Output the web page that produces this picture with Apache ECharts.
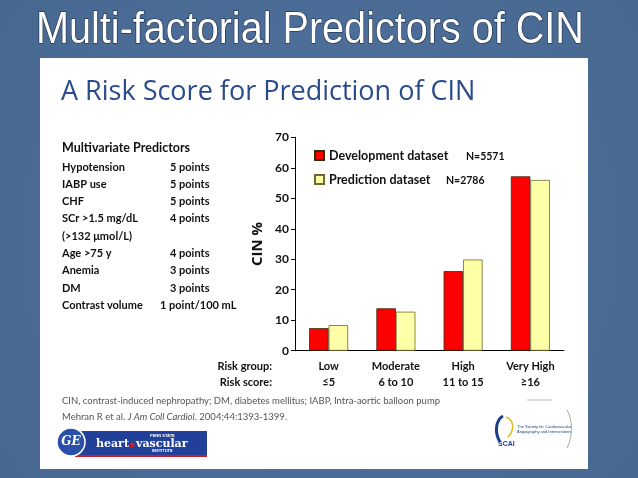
<!DOCTYPE html>
<html>
<head>
<meta charset="utf-8">
<script src="https://cdn.jsdelivr.net/npm/echarts@6/dist/echarts.min.js"></script>
<style>
html, body { margin: 0; padding: 0; }
#chart { width: 638px; height: 478px; }
</style>
</head>
<body>
<div id="chart"></div>
<script>
const risk_groups = ["Low", "Moderate", "High", "Very High"];
const risk_scores = ["≤5", "6 to 10", "11 to 15", "≥16"];
const development_values = [7.4, 13.9, 26.1, 57.2];
const prediction_values = [8.4, 12.8, 29.9, 56.0];

const predictor_names = ["Hypotension", "IABP use", "CHF", "SCr >1.5 mg/dL", "(>132 \u03bcmol/L)", "Age >75 y", "Anemia", "DM", "Contrast volume"];
const predictor_points = ["5 points", "5 points", "5 points", "4 points", "", "4 points", "3 points", "3 points", "1 point/100 mL"];

const font = "Lato";
const echart_el = document.getElementById("chart");
const echart_instance = echarts.init(echart_el);

// small helper for positioned texts
const txt = function (x, y, text, font_str, fill, extra) {
    return {
        type: "text",
        x: x,
        y: y,
        style: Object.assign({ text: text, font: font_str, fill: fill || "#111", textVerticalAlign: "middle" }, extra || {}),
    };
};

const table_texts = [];
predictor_names.forEach(function (name, i) {
    const y = 167 + i * 17.3;
    table_texts.push(txt(62, y, name, "bold 11px " + font));
    if (predictor_points[i]) {
        table_texts.push(txt(i === 8 ? 160 : 170, y, predictor_points[i], "bold 11px " + font));
    }
});

const config = {
    backgroundColor: {
        type: "radial", x: 0.5, y: 0.5, r: 0.8,
        colorStops: [{ offset: 0, color: "#5273a0" }, { offset: 1, color: "#476890" }],
    },
    animation: false,
    textStyle: { fontFamily: font },
    grid: { left: 295, top: 137.3, width: 269, height: 213.4 },
    legend: {
        orient: "vertical",
        left: 314,
        top: 149,
        padding: 0,
        itemWidth: 9,
        itemHeight: 9,
        itemGap: 11,
        icon: "rect",
        textStyle: { fontFamily: font, fontSize: 12.5, fontWeight: "bold", color: "#111" },
        data: ["Development dataset", "Prediction dataset"],
    },
    xAxis: {
        type: "category",
        data: risk_groups,
        axisLine: { lineStyle: { color: "#000", width: 1 } },
        axisTick: { length: 4, lineStyle: { color: "#000" } },
        axisLabel: {
            margin: 8,
            interval: 0,
            fontSize: 11,
            fontWeight: "bold",
            color: "#111",
            lineHeight: 16,
            formatter: function (value, index) {
                return value + "\n" + risk_scores[index];
            },
        },
    },
    yAxis: {
        type: "value",
        min: 0,
        max: 70,
        interval: 10,
        name: "CIN %",
        nameLocation: "middle",
        nameGap: 30,
        nameRotate: 90,
        nameTextStyle: { fontSize: 15, fontWeight: "bold", color: "#111", fontFamily: "Open Sans" },
        splitLine: { show: false },
        axisLine: { show: true, lineStyle: { color: "#000", width: 1 } },
        axisTick: { show: true, length: 4, lineStyle: { color: "#000" } },
        axisLabel: { margin: 6, fontSize: 12, fontWeight: "bold", color: "#111" },
    },
    series: [
        {
            name: "Development dataset",
            type: "bar",
            data: development_values,
            barWidth: 19.5,
            barGap: "0%",
            itemStyle: { color: "#ff0000", borderColor: "#3a2a10", borderWidth: 0.8 },
        },
        {
            name: "Prediction dataset",
            type: "bar",
            data: prediction_values,
            barWidth: 19.5,
            itemStyle: { color: "#ffffa8", borderColor: "#6b6a30", borderWidth: 0.8 },
        },
    ],
    graphic: [
        // white slide panel
        { type: "rect", z: -10, shape: { x: 40, y: 58, width: 548, height: 411 }, style: { fill: "#fff" } },
        // slide title
        Object.assign(txt(310, 31, "Multi-factorial Predictors of CIN", "44px 'Liberation Sans', sans-serif", "#fff", {
            textAlign: "center",
            stroke: "#10203a",
            lineWidth: 1.2,
            shadowColor: "#0c1a30",
            shadowOffsetX: 2,
            shadowOffsetY: 2,
            shadowBlur: 1,
        }), { scaleX: 0.9 }),
        txt(61, 92, "A Risk Score for Prediction of CIN", "27px 'Open Sans'", "#2a4b8c"),
        txt(62, 148, "Multivariate Predictors", "bold 12.5px " + font),
        ...table_texts,
        txt(466, 157, "N=5571", "bold 10.5px " + font),
        txt(446, 181, "N=2786", "bold 10.5px " + font),
        txt(272, 366, "Risk group:", "bold 11px " + font, "#111", { textAlign: "right" }),
        txt(272, 382, "Risk score:", "bold 11px " + font, "#111", { textAlign: "right" }),
        txt(62, 401, "CIN, contrast-induced nephropathy; DM, diabetes mellitus; IABP, Intra-aortic balloon pump", "9.5px " + font, "#555"),
        txt(62, 417, "Mehran R et al. {i|J Am Coll Cardiol}. 2004;44:1393-1399.", "9.5px " + font, "#555", {
            rich: { i: { fontStyle: "italic", fontSize: 9.5, fontFamily: font, fill: "#555" } },
        }),
        // GE / Penn State logo
        { type: "rect", shape: { x: 75, y: 431, width: 132, height: 25 }, style: { fill: "#22409a" } },
        { type: "rect", shape: { x: 75, y: 455, width: 132, height: 2 }, style: { fill: "#c8202a" } },
        { type: "circle", shape: { cx: 71, cy: 442, r: 14 }, style: { fill: "#2a4fa8", stroke: "#fff", lineWidth: 1.5 } },
        txt(71, 442, "GE", "italic bold 12px 'DejaVu Serif'", "#fff", { textAlign: "center" }),
        txt(96, 444, "heart", "bold 11px 'DejaVu Serif'", "#fff"),
        { type: "circle", shape: { cx: 132, cy: 445, r: 2.5 }, style: { fill: "#c8202a" } },
        txt(136, 444, "vascular", "bold 11px 'DejaVu Serif'", "#fff"),
        txt(150, 436, "PENN STATE", "bold 4px sans-serif", "#fff"),
        txt(152, 451, "INSTITUTE", "bold 4px sans-serif", "#fff"),
        // SCAI logo
        {
            type: "bezierCurve",
            shape: { x1: 503, y1: 416, cpx1: 496, cpy1: 420, cpx2: 494, cpy2: 432, x2: 500, y2: 442 },
            style: { fill: "none", stroke: "#1d3f8a", lineWidth: 3 },
        },
        {
            type: "bezierCurve",
            shape: { x1: 506, y1: 417, cpx1: 514, cpy1: 420, cpx2: 515, cpy2: 430, x2: 508, y2: 437 },
            style: { fill: "none", stroke: "#e0b820", lineWidth: 1.5 },
        },
        txt(498, 444, "SCAI", "bold 7px 'Liberation Sans', sans-serif", "#1d3f8a"),
        txt(517, 429, "The Society for Cardiovascular\nAngiography and Interventions", "4px sans-serif", "#1d3f8a", { lineHeight: 5 }),
        {
            type: "bezierCurve",
            shape: { x1: 567, y1: 410, cpx1: 573, cpy1: 420, cpx2: 573, cpy2: 436, x2: 567, y2: 448 },
            style: { fill: "none", stroke: "#aaa", lineWidth: 1 },
        },
        {
            type: "line",
            shape: { x1: 527, y1: 400, x2: 552, y2: 400 },
            style: { stroke: "#bbb", lineWidth: 1 },
        },
    ],
};

echart_instance.setOption(config);
</script>
</body>
</html>
